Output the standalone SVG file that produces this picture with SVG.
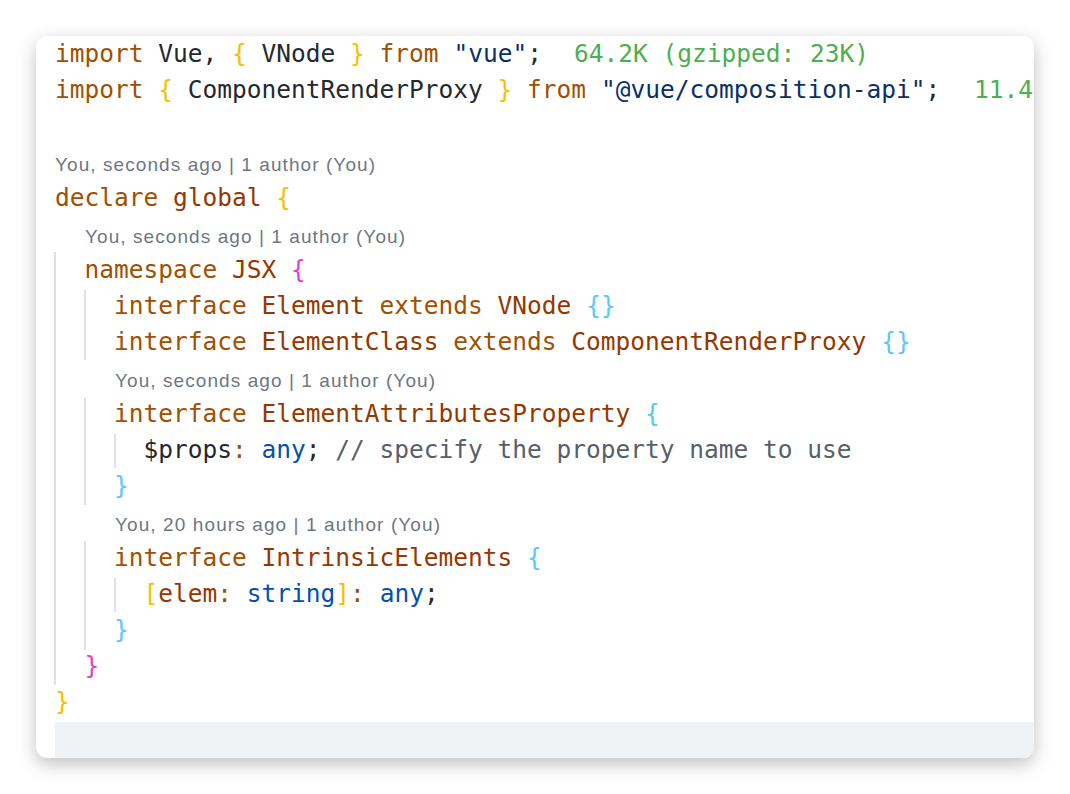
<svg xmlns="http://www.w3.org/2000/svg" width="1070" height="794" viewBox="0 0 1070 794">
<defs>
<filter id="sh" x="-10%" y="-10%" width="120%" height="120%"><feDropShadow dx="0" dy="6" stdDeviation="9" flood-color="#000" flood-opacity="0.25"/></filter>
<clipPath id="cp"><rect x="36" y="36" width="998" height="722" rx="12"/></clipPath>
</defs>
<style>
.c{font-family:"DejaVu Sans Mono","Liberation Mono",monospace;font-size:24.5px;fill:#24292f;white-space:pre}
.l{font-family:"Liberation Sans","Noto Sans",sans-serif;font-size:19px;fill:#6e7781}
.k{fill:#a14f00}.t{fill:#953800}.s{fill:#0a3069}.g{fill:#4caf50}.b{fill:#0550ae}.y{fill:#f5c000}.p{fill:#e040d0}.lb{fill:#5ac8fa}.cm{fill:#57606a}
.gd{stroke:#d0d7de;stroke-width:1.5}
</style>
<rect x="0" y="0" width="1070" height="794" fill="#ffffff"/>
<rect x="36" y="36" width="998" height="722" rx="12" fill="#ffffff" filter="url(#sh)"/>
<g clip-path="url(#cp)">
<rect x="55" y="722" width="979" height="36" fill="#f0f3f6"/>
<g id="guides">
<line class="gd" x1="55" y1="252" x2="55" y2="685"/>
<line class="gd" x1="85" y1="290" x2="85" y2="360"/>
<line class="gd" x1="85" y1="398" x2="85" y2="505"/>
<line class="gd" x1="85" y1="541" x2="85" y2="650"/>
<line class="gd" x1="115" y1="434" x2="115" y2="468"/>
<line class="gd" x1="115" y1="578" x2="115" y2="612"/>
</g>
<g id="code" xml:space="preserve">
<text class="c" x="55" y="62"><tspan class="k">import</tspan> Vue, <tspan class="y">{</tspan> VNode <tspan class="y">}</tspan> <tspan class="k">from</tspan> <tspan class="s">"vue"</tspan>;  <tspan class="g" x="574">64.2K (gzipped: 23K)</tspan></text>
<text class="c" x="55" y="98"><tspan class="k">import</tspan> <tspan class="y">{</tspan> ComponentRenderProxy <tspan class="y">}</tspan> <tspan class="k">from</tspan> <tspan class="s">"@vue/composition-api"</tspan>;  <tspan class="g" x="974">11.4</tspan></text>
<text class="l" x="55" y="171" textLength="320">You, seconds ago | 1 author (You)</text>
<text class="c" x="55" y="206"><tspan class="k">declare</tspan> <tspan class="t">global</tspan> <tspan class="y">{</tspan></text>
<text class="l" x="85" y="243" textLength="320">You, seconds ago | 1 author (You)</text>
<text class="c" x="84.5" y="278"><tspan class="k">namespace</tspan> <tspan class="t">JSX</tspan> <tspan class="p">{</tspan></text>
<text class="c" x="114" y="314"><tspan class="k">interface</tspan> <tspan class="t">Element</tspan> <tspan class="k">extends</tspan> <tspan class="t">VNode</tspan> <tspan class="lb">{}</tspan></text>
<text class="c" x="114" y="350"><tspan class="k">interface</tspan> <tspan class="t">ElementClass</tspan> <tspan class="k">extends</tspan> <tspan class="t">ComponentRenderProxy</tspan> <tspan class="lb">{}</tspan></text>
<text class="l" x="115" y="387" textLength="320">You, seconds ago | 1 author (You)</text>
<text class="c" x="114" y="422"><tspan class="k">interface</tspan> <tspan class="t">ElementAttributesProperty</tspan> <tspan class="lb">{</tspan></text>
<text class="c" x="143.5" y="458">$props<tspan class="k">:</tspan> <tspan class="b">any</tspan>; <tspan class="cm">// specify the property name to use</tspan></text>
<text class="c" x="114" y="494"><tspan class="lb">}</tspan></text>
<text class="l" x="115" y="531" textLength="325">You, 20 hours ago | 1 author (You)</text>
<text class="c" x="114" y="566"><tspan class="k">interface</tspan> <tspan class="t">IntrinsicElements</tspan> <tspan class="lb">{</tspan></text>
<text class="c" x="143.5" y="602"><tspan class="y">[</tspan><tspan class="t">elem</tspan><tspan class="k">:</tspan> <tspan class="b">string</tspan><tspan class="y">]</tspan><tspan class="k">:</tspan> <tspan class="b">any</tspan>;</text>
<text class="c" x="114" y="638"><tspan class="lb">}</tspan></text>
<text class="c" x="84.5" y="674"><tspan class="p">}</tspan></text>
<text class="c" x="55" y="710"><tspan class="y">}</tspan></text>
</g>
</g>
</svg>
